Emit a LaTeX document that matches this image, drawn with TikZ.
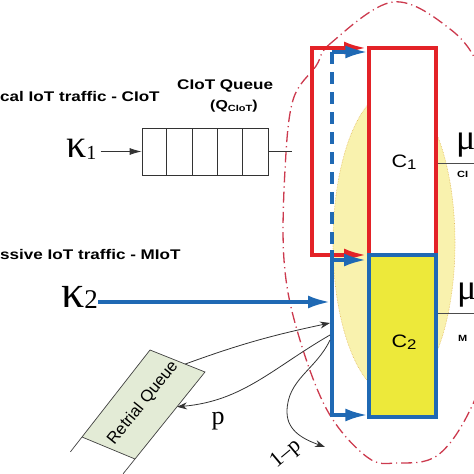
\documentclass[tikz,border=0pt]{standalone}
\usepackage{fontspec}
\setmainfont{Liberation Sans}
\newfontfamily\grk{Liberation Serif}
\usetikzlibrary{arrows.meta,calc}

\definecolor{cred}{HTML}{E32227}
\definecolor{cblue}{HTML}{1F69B4}
\definecolor{cyel}{HTML}{EDE93A}
\definecolor{cpale}{HTML}{F9F2AE}
\definecolor{cedge}{HTML}{E2B85A}
\definecolor{cdash}{HTML}{CC3A4E}
\definecolor{cretry}{HTML}{E3EBD6}

\tikzset{
	server/.style={draw, line width=3.3pt, minimum width=67pt, inner sep=0pt},
	bluearrow/.style={cblue, line width=3.3pt, -{Latex[length=22pt,width=13pt]}},
	redloop/.style={cred, line width=3.3pt, {Latex[length=22pt,width=13pt]}-{Latex[length=22pt,width=13pt]}},
	flow/.style={black!80, line width=0.8pt, -{Stealth[length=10pt,width=7pt]}},
	heading/.style={font=\bfseries\fontsize{14}{14}\selectfont, xscale=1.22, inner sep=0pt},
	tiny/.style={font=\bfseries\fontsize{9}{9}\selectfont, xscale=1.22, inner sep=0pt},
	chan/.style={font=\fontsize{18}{18}\selectfont, xscale=1.2, inner sep=0pt},
}

\begin{document}
\begin{tikzpicture}[x=1pt,y=1pt]
	\useasboundingbox (0,0) rectangle (474,474);

	% Draw shared region.
	\fill[cpale] (394,231) ellipse [x radius=61, y radius=153];
	\draw[cedge, densely dotted, line width=0.6pt] (394,231) ellipse [x radius=61, y radius=153];

	% Draw system boundary.
	\draw[cdash, line width=1.3pt, dash pattern=on 11pt off 4pt on 1.2pt off 4pt]
		plot[smooth cycle, tension=0.6] coordinates {(393,472) (331,431) (316,408) (293,374) (285,304) (284,214) (297,144) (327,64) (367,17) (397,11) (438,19) (472,68) (500,150) (508,240) (503,330) (480,405) (450,445)};

	% Draw channel groups.
	\node[server, draw=cred, fill=white, minimum height=207pt] (c1) at (402.5,322.5) {};
	\node[server, draw=cblue, fill=cyel, minimum height=162pt] (c2) at (402.5,138) {};
	\node[chan] (c1lbl) at (404,312) {C\raisebox{-2pt}{\fontsize{14}{14}\selectfont 1}};
	\node[chan] (c2lbl) at (404,132) {C\raisebox{-2pt}{\fontsize{14}{14}\selectfont 2}};

	% Draw CIoT queue.
	\node[draw, black!80, line width=0.8pt, minimum width=126pt, minimum height=47pt, inner sep=0pt] (cq) at (205,322.5) {};
	\foreach \i in {1,...,4} {
		\draw[black!80, line width=0.8pt] ([xshift=\i*25.2pt]cq.south west) -- ([xshift=\i*25.2pt]cq.north west);
	}
	\coordinate (cqout) at (292,322.5);
	\draw[black!80, line width=0.8pt] (cq.east) -- (cqout);

	% Draw labels on the left.
	\node[heading, anchor=base west] (ciot) at (0,372) {cal IoT traffic - CIoT};
	\node[heading, anchor=base west] (qname) at (177,384) {CIoT Queue};
	\node[anchor=base west, inner sep=0pt, xscale=1.22, font=\bfseries\fontsize{13}{13}\selectfont] (qsym) at (210,364) {(Q\raisebox{-2pt}{\fontsize{9}{9}\selectfont CIoT})};
	\node[heading, anchor=base west] (miot) at (0,214) {ssive IoT traffic - MIoT};
	\node[anchor=base west, inner sep=0pt, font=\grk\fontsize{40}{40}\selectfont] (k1) at (66,316) {κ\raisebox{-2pt}{\fontsize{20}{20}\selectfont 1}};
	\node[anchor=base west, inner sep=0pt, font=\grk\fontsize{46}{46}\selectfont] (k2) at (61,166) {κ\raisebox{-1pt}{\fontsize{27}{27}\selectfont 2}};
	\draw[flow, -{Latex[length=12pt,width=7pt]}] (k1.east |- cq.west) ++(4,0) -- (cq.west);

	% Draw red feedback loop.
	\draw[redloop] (366,219) -- (312,219) -- (312,426) -- (366,426);

	% Draw blue bar and arrows.
	\coordinate (bartop) at (332,422);
	\coordinate (barmid) at (332,224);
	\coordinate (barbot) at (332,59);
	\draw[cblue, line width=3.3pt, dash pattern=on 12pt off 8pt] (bartop) -- (barmid);
	\draw[bluearrow] (bartop) -- (bartop -| c1.west);
	\draw[bluearrow] (barmid) -- (barbot) -- (barbot -| c2.west);
	\draw[bluearrow] (332,214) -- (366,214);
	\draw[bluearrow] (k2.east |- 0,172) -- (330,172);

	% Draw service rates.
	\coordinate (r1) at (474,311);
	\coordinate (r2) at (474,161);
	\draw[black!70, line width=0.6pt] (c1.east |- r1) -- (r1);
	\draw[black!70, line width=0.6pt] (c2.east |- r2) -- (r2);
	\node[anchor=base west, inner sep=0pt, font=\grk\fontsize{36}{36}\selectfont] (mu1) at (456,324) {μ};
	\node[anchor=base west, inner sep=0pt, font=\grk\fontsize{36}{36}\selectfont] (mu2) at (457,174) {μ};
	\node[tiny, anchor=base west] (s1) at (457,296) {CI};
	\node[tiny, anchor=base west] (s2) at (458,132) {M};

	% Draw retrial queue.
	\coordinate (ra) at (150,124);
	\coordinate (rb) at (205,102);
	\coordinate (rc) at (135,15);
	\coordinate (rd) at (82,37);
	\fill[cretry] (ra) -- (rb) -- (rc) -- (rd) -- cycle;
	\draw[black!75, line width=0.7pt] ($(ra)!1.17!(rd)$) -- (ra) -- (rb) -- ($(rb)!1.17!(rc)$);
	\draw[black!75, line width=0.7pt] (rd) -- (rc);
	\node[rotate=51, font=\fontsize{16.5}{16.5}\selectfont, inner sep=0pt] (rq) at (143,71) {Retrial Queue};

	% Draw retrial flows.
	\coordinate (rqout) at ($(ra)!0.64!(rb)$);
	\coordinate (rqin) at ($(rb)!0.4!(rc)$);
	\coordinate (lost) at (325,27);
	\draw[flow] (rqout) to[out=20, in=192] (330,151);
	\draw[flow] (330,139) to[out=-150, in=5] (rqin);
	\draw[flow] (330,134) to[out=-115, in=90] (287,62) to[out=-90, in=160] (lost);
	\node[font=\grk\fontsize{26}{26}\selectfont, inner sep=0pt] (plbl) at (218,53) {p};
	\node[rotate=40, font=\grk\fontsize{22}{22}\selectfont, inner sep=0pt] (qlbl) at (286,20) {1–p};

\end{tikzpicture}
\end{document}
